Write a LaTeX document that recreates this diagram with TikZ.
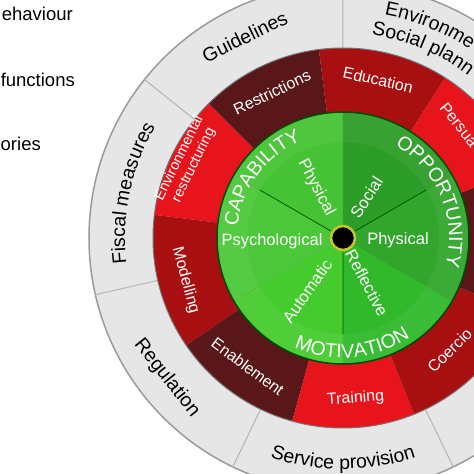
\documentclass[tikz,border=0pt]{standalone}
\usepackage{fontspec}
\setmainfont{Liberation Sans}
\usepackage{tikz}
\usetikzlibrary{decorations.text}

\definecolor{policygrey}{HTML}{E6E6E6}
\definecolor{policyedge}{HTML}{9A9A9A}
\definecolor{policyline}{HTML}{B4B4B4}
\definecolor{funcbright}{HTML}{E8141C}
\definecolor{funcdark}{HTML}{A80F10}
\definecolor{funcmaroon}{HTML}{5A1719}
\definecolor{capgreen}{HTML}{46C334}
\definecolor{psygreen}{HTML}{4CC739}
\definecolor{socgreen}{HTML}{2C9D27}
\definecolor{envgreen}{HTML}{31A52C}
\definecolor{refgreen}{HTML}{31B92B}
\definecolor{autgreen}{HTML}{46CB2F}
\definecolor{hubring}{HTML}{C9C42A}

\newcommand{\legfont}{\fontsize{18.5pt}{21pt}\selectfont}
\newcommand{\polfont}{\fontsize{19.5pt}{22pt}\selectfont}
\newcommand{\funcfont}{\fontsize{16pt}{18pt}\selectfont}
\newcommand{\envfont}{\fontsize{14.5pt}{16pt}\selectfont}
\newcommand{\comfont}{\fontsize{19.5pt}{22pt}\selectfont}
\newcommand{\subfont}{\fontsize{16.5pt}{18pt}\selectfont}

\begin{document}
\begin{tikzpicture}[
    every node/.style={text=white, font=\subfont, inner sep=0pt},
    legend/.style={anchor=base east, text=black, font=\legfont},
    policy/.style={text=black, font=\polfont},
    func/.style={font=\funcfont},
    divider/.style={draw=policyline, line width=1pt},
    subline/.style={draw=green!35!black, line width=0.8pt},
    ringtext/.style 2 args={decorate, decoration={text along path, text align=center, text color=#1, text={#2}}},
    lefttext/.style 2 args={decorate, decoration={text along path, text align=left, text color=#1, text={#2}}}
]

\useasboundingbox (-343pt,-236pt) rectangle (131pt,238pt);
\clip (-343pt,-236pt) rectangle (131pt,238pt);

\node (sources) [legend] at (-270pt,217pt) {ehaviour};
\node (functions) [legend] at (-268pt,151pt) {functions};
\node (categories) [legend] at (-302pt,88pt) {ories};

\fill[policygrey] (0,0) circle (254pt);
\draw[policyedge, line width=1.5pt] (0,0) circle (254pt);
\draw[divider] (90:190pt) -- (90:254pt) (141.4:190pt) -- (141.4:254pt)
    (192.9:190pt) -- (192.9:254pt) (244.3:190pt) -- (244.3:254pt)
    (295.7:190pt) -- (295.7:254pt) (347.1:190pt) -- (347.1:254pt)
    (38.6:190pt) -- (38.6:254pt);

\fill[funcdark] (0,0) -- (57.5:190pt) arc[start angle=57.5, end angle=97.3, radius=190pt] -- cycle;
\fill[funcmaroon] (0,0) -- (97.3:190pt) arc[start angle=97.3, end angle=135, radius=190pt] -- cycle;
\fill[funcbright] (0,0) -- (135:190pt) arc[start angle=135, end angle=173, radius=190pt] -- cycle;
\fill[funcdark] (0,0) -- (173:190pt) arc[start angle=173, end angle=214.4, radius=190pt] -- cycle;
\fill[funcmaroon] (0,0) -- (214.4:190pt) arc[start angle=214.4, end angle=254.5, radius=190pt] -- cycle;
\fill[funcbright] (0,0) -- (254.5:190pt) arc[start angle=254.5, end angle=292, radius=190pt] -- cycle;
\fill[funcdark] (0,0) -- (292:190pt) arc[start angle=292, end angle=337, radius=190pt] -- cycle;
\fill[funcmaroon] (0,0) -- (337:190pt) arc[start angle=337, end angle=381, radius=190pt] -- cycle;
\fill[funcbright] (0,0) -- (21:190pt) arc[start angle=21, end angle=57.5, radius=190pt] -- cycle;
\draw[black!55, line width=1pt] (0,0) circle (190pt);

\fill[capgreen!95!white] (0,0) -- (90:126pt) arc[start angle=90, end angle=150, radius=126pt] -- cycle;
\fill[psygreen!95!white] (0,0) -- (150:126pt) arc[start angle=150, end angle=210, radius=126pt] -- cycle;
\fill[autgreen!95!white] (0,0) -- (210:126pt) arc[start angle=210, end angle=270, radius=126pt] -- cycle;
\fill[refgreen!95!white] (0,0) -- (270:126pt) arc[start angle=270, end angle=330, radius=126pt] -- cycle;
\fill[envgreen!95!white] (0,0) -- (-30:126pt) arc[start angle=-30, end angle=30, radius=126pt] -- cycle;
\fill[socgreen!95!white] (0,0) -- (30:126pt) arc[start angle=30, end angle=90, radius=126pt] -- cycle;
\fill[capgreen] (0,0) -- (90:96pt) arc[start angle=90, end angle=150, radius=96pt] -- cycle;
\fill[psygreen] (0,0) -- (150:96pt) arc[start angle=150, end angle=210, radius=96pt] -- cycle;
\fill[autgreen] (0,0) -- (210:96pt) arc[start angle=210, end angle=270, radius=96pt] -- cycle;
\fill[refgreen] (0,0) -- (270:96pt) arc[start angle=270, end angle=330, radius=96pt] -- cycle;
\fill[envgreen] (0,0) -- (-30:96pt) arc[start angle=-30, end angle=30, radius=96pt] -- cycle;
\fill[socgreen] (0,0) -- (30:96pt) arc[start angle=30, end angle=90, radius=96pt] -- cycle;
\draw[green!30!black, line width=1.5pt] (0,0) circle (126pt);
\draw[subline] (150:14pt) -- (150:96pt) (30:14pt) -- (30:96pt) (270:14pt) -- (270:96pt);

\node (hub) [circle, fill=black, draw=hubring, line width=2.5pt, minimum size=24pt] at (0,0) {};

\node (guidelines) [policy, rotate=26] at (116:224pt) {Guidelines};
\node (regulation) [policy, rotate=-51.5] at (218.5:225pt) {Regulation};
\path[ringtext={black}{|\polfont|Fiscal measures}] (210:218pt) arc[start angle=210, end angle=126, radius=218pt];
\path[ringtext={black}{|\polfont|Service provision}] (225:231pt) arc[start angle=225, end angle=315, radius=231pt];
\path[lefttext={black}{|\polfont|Environme}] (79.5:227pt) arc[start angle=79.5, end angle=30, radius=227pt];
\path[lefttext={black}{|\polfont|Social plann}] (82:205pt) arc[start angle=82, end angle=30, radius=205pt];

\node (education) [func, rotate=-12.5] at (77.5:162pt) {Education};
\node (restrictions) [func, rotate=26] at (116:162pt) {Restrictions};
\node (persuasion) [func, anchor=west, rotate=-51] at (100pt,133pt) {Persua};
\node (restructuring) [font=\envfont, align=center, rotate=64] at (154:174pt) {Environmental\\restructuring};
\node (modelling) [func, rotate=-75] at (195:163pt) {Modelling};
\node (enablement) [func, rotate=-36.5] at (233.5:160pt) {Enablement};
\node (training) [func, rotate=4.5] at (-85.5:161pt) {Training};
\node (coercion) [func, anchor=west, rotate=45] at (87pt,-132pt) {Coercio};

\path[ringtext={white}{|\comfont|CAPABILITY}] (188.5:106pt) arc[start angle=188.5, end angle=98.5, radius=106pt];
\path[ringtext={white}{|\comfont|OPPORTUNITY}] (67.5:106pt) arc[start angle=67.5, end angle=-22.5, radius=106pt];
\path[ringtext={white}{|\comfont|MOTIVATION}] (230:120pt) arc[start angle=230, end angle=320, radius=120pt];

\node (capphys) [rotate=-62] at (118:57pt) {Physical};
\node (social) [rotate=57] at (60:47pt) {Social};
\node (psych) at (-71pt,-3pt) {Psychological};
\node (oppphys) at (55pt,-2pt) {Physical};
\node (automatic) [rotate=55] at (236:64pt) {Automatic};
\node (reflective) [rotate=-62] at (-62:51pt) {Reflective};

\end{tikzpicture}
\end{document}
